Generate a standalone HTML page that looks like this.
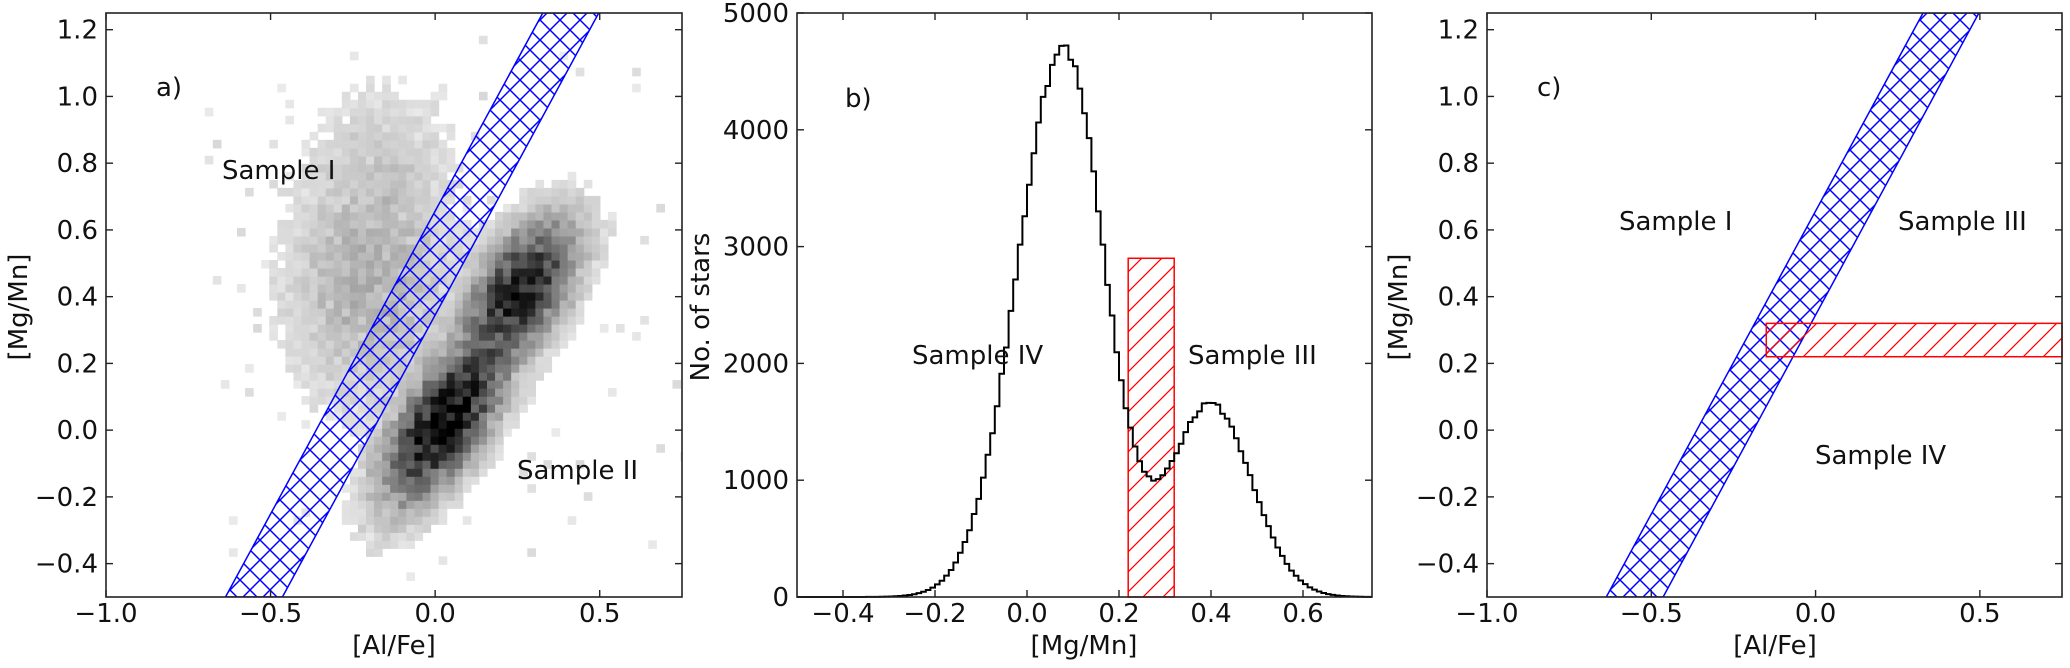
<!DOCTYPE html>
<html><head><meta charset="utf-8"><style>
html,body{margin:0;padding:0;background:#fff;}
svg{display:block;font-family:"DejaVu Sans","Liberation Sans",sans-serif;}
</style></head><body>
<svg id="s" width="2070" height="668" viewBox="0 0 2070 668" xmlns="http://www.w3.org/2000/svg">
<defs>
<pattern id="xh" patternUnits="userSpaceOnUse" width="20" height="20">
<path d="M0,0 L20,20 M20,0 L0,20 M-10,10 L10,30 M10,-10 L30,10 M10,-10 L-10,10 M30,10 L10,30" stroke="#0000ff" stroke-width="1.5" fill="none"/>
</pattern>
<pattern id="rh" patternUnits="userSpaceOnUse" width="20" height="20">
<path d="M0,20 L20,0 M-10,10 L10,-10 M10,30 L30,10" stroke="#ff0000" stroke-width="1.3" fill="none"/>
</pattern>
<clipPath id="ca"><rect x="106" y="13" width="576" height="584"/></clipPath>
<clipPath id="cc"><rect x="1487" y="13" width="575" height="584"/></clipPath>
</defs>
<g id="g"></g>
</svg>
<script>
var NS="http://www.w3.org/2000/svg",G=document.getElementById('g');
function el(t,a,p,txt){var e=document.createElementNS(NS,t);for(var k in a)e.setAttribute(k,a[k]);if(txt!==undefined)e.textContent=txt;(p||G).appendChild(e);return e;}
var TOP=13,BOT=597;
function mk(L,R,x0,x1,y0,y1){return {L:L,R:R,X:function(v){return L+(v-x0)/(x1-x0)*(R-L);},Y:function(v){return BOT-(v-y0)/(y1-y0)*(BOT-TOP);}};}
var A=mk(106,682,-1,0.75,-0.5,1.25),B=mk(797,1372,-0.5,0.75,0,5000),C=mk(1487,2062,-1,0.75,-0.5,1.25);
function fmt(v,d){var s=Math.abs(v).toFixed(d);return (v<-1e-9?"\u2212":"")+s;}
var seed=7;function rnd(){seed=(seed*16807)%2147483647;return seed/2147483647;}
function rg(x,y,cx,cy,sa,sb,th){var dx=x-cx,dy=y-cy,c=Math.cos(th),s=Math.sin(th);var u=dx*c+dy*s,w=-dx*s+dy*c;return Math.exp(-0.5*(u*u/sa/sa+w*w/sb/sb));}
var th=Math.atan2(0.45,0.3);
var gh=el('g',{'clip-path':'url(#ca)'});
var bx=0.0245,by=0.024;
for(var x=-0.7;x<0.75;x+=bx){for(var y=-0.45;y<1.2;y+=by){
 var cx=x+bx/2,cy=y+by/2;
 var d=1.0*rg(cx,cy,0.03,0.03,0.14,0.06,th)+0.75*rg(cx,cy,0.26,0.42,0.12,0.065,th)+0.07*rg(cx,cy,-0.2,0.45,0.13,0.2,0)+0.015*rg(cx,cy,-0.15,0.8,0.12,0.15,0);
 var cnt=120*d*(0.5+rnd());
 if(cnt<0.6&&rnd()>0.02)continue;
 if(cnt<0.6)cnt=0.6;
 var t=Math.log(1+cnt)/Math.log(121);t=Math.min(1,t);
 var g=Math.round(235*(1-t*0.3-t*t*0.3-0.4*Math.pow(t,3))*(0.95+0.08*rnd()));if(g>235)g=235;if(g<0)g=0;
 el('rect',{x:A.X(x),y:A.Y(y+by),width:A.X(x+bx)-A.X(x)+0.6,height:A.Y(y)-A.Y(y+by)+0.6,fill:'rgb('+g+','+g+','+g+')'},gh);
}}
function band(P,clip){var g=el('g',{'clip-path':clip});
 var pts=[[-0.637,-0.5],[0.327,1.25],[0.497,1.25],[-0.464,-0.5]].map(function(p){return P.X(p[0])+','+P.Y(p[1]);}).join(' ');
 el('polygon',{points:pts,fill:'url(#xh)',stroke:'#0000ff','stroke-width':1.5},g);}
band(A,'url(#ca)');band(C,'url(#cc)');
el('rect',{x:C.X(-0.15),y:C.Y(0.32),width:C.X(0.75)-C.X(-0.15),height:C.Y(0.22)-C.Y(0.32),fill:'url(#rh)',stroke:'#ff0000','stroke-width':1.5});
el('rect',{x:B.X(0.22),y:B.Y(2900),width:B.X(0.32)-B.X(0.22),height:B.Y(0)-B.Y(2900),fill:'url(#rh)',stroke:'#ff0000','stroke-width':1.5});
var bw=0.01,path='',first=true;seed=3;
for(var x=-0.5;x<0.745;x+=bw){var c=x+bw/2;
 var s1=c<0.08?0.1:0.088;
 var h=4700*Math.exp(-0.5*Math.pow((c-0.08)/s1,2))+1650*Math.exp(-0.5*Math.pow((c-0.4)/0.088,2));
 h*=1+0.025*(rnd()-0.5);
 var x1=B.X(x),x2=B.X(x+bw),yy=B.Y(h);
 path+=(first?'M'+x1+','+yy:'L'+x1+','+yy)+' L'+x2+','+yy+' ';first=false;}
el('path',{d:path,fill:'none',stroke:'#000','stroke-width':2});
function axes(P,xt,xd,yt,yd){
 el('rect',{x:P.L,y:TOP,width:P.R-P.L,height:BOT-TOP,fill:'none',stroke:'#222','stroke-width':1.6});
 xt.forEach(function(v){var X=P.X(v);el('line',{x1:X,x2:X,y1:BOT,y2:BOT-7,stroke:'#222','stroke-width':1.4});el('line',{x1:X,x2:X,y1:TOP,y2:TOP+7,stroke:'#222','stroke-width':1.4});
  el('text',{x:X,y:622,'font-size':26,'text-anchor':'middle',fill:'#111'},null,fmt(v,xd));});
 yt.forEach(function(v){var Y=P.Y(v);el('line',{x1:P.L,x2:P.L+7,y1:Y,y2:Y,stroke:'#222','stroke-width':1.4});el('line',{x1:P.R,x2:P.R-7,y1:Y,y2:Y,stroke:'#222','stroke-width':1.4});
  el('text',{x:P.L-8,y:Y+9,'font-size':26,'text-anchor':'end',fill:'#111'},null,fmt(v,yd));});
}
var yt=[-0.4,-0.2,0,0.2,0.4,0.6,0.8,1.0,1.2];
axes(A,[-1,-0.5,0,0.5],1,yt,1);axes(C,[-1,-0.5,0,0.5],1,yt,1);
axes(B,[-0.4,-0.2,0,0.2,0.4,0.6],1,[0,1000,2000,3000,4000,5000],0);
function T(x,y,s,o){var a={x:x,y:y,'font-size':(o&&o.fs)||26,fill:'#111'};if(o&&o.a)a['text-anchor']=o.a;if(o&&o.r)a.transform='rotate(-90 '+x+' '+y+')';el('text',a,null,s);}
T(394,654,'[Al/Fe]',{a:'middle'});T(1084,654,'[Mg/Mn]',{a:'middle'});T(1775,654,'[Al/Fe]',{a:'middle'});
T(27,307,'[Mg/Mn]',{a:'middle',r:1});T(709,307,'No. of stars',{a:'middle',r:1});T(1407,307,'[Mg/Mn]',{a:'middle',r:1});
T(156,96,'a)');T(222,179,'Sample I');T(517,479,'Sample II');
T(845,107,'b)');T(912,364,'Sample IV');T(1188,364,'Sample III');
T(1537,96,'c)');T(1619,230,'Sample I');T(1898,230,'Sample III');T(1815,464,'Sample IV');
</script>
</body></html>
